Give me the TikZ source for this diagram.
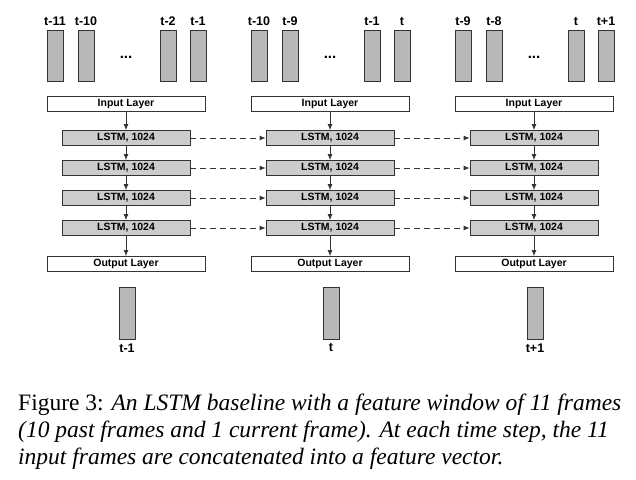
\documentclass[tikz,border=0pt]{standalone}
\usepackage{fontspec}
\setmainfont{Liberation Serif}
\newfontfamily\arialf{Liberation Sans}
\usetikzlibrary{arrows.meta}
\begin{document}
\begin{tikzpicture}[x=1pt,y=-1pt,
  bar/.style={draw=black!80,fill=black!28,line width=0.8pt,minimum width=16pt,minimum height=51pt,inner sep=0pt},
  lbl/.style={font=\arialf\bfseries\fontsize{12.5}{13}\selectfont,inner sep=0pt},
  layer/.style={draw=black!80,fill=white,line width=0.8pt,minimum width=158pt,minimum height=15pt,inner sep=0pt,font=\arialf\bfseries\fontsize{10.5}{11}\selectfont},
  lstm/.style={draw=black!80,fill=black!20,line width=0.8pt,minimum width=128pt,minimum height=15pt,inner sep=0pt,font=\arialf\bfseries\fontsize{10.5}{11}\selectfont},
  va/.style={draw=black!80,line width=0.8pt,-{Latex[length=6pt,width=5pt]}},
  da/.style={draw=black!80,line width=0.8pt,dash pattern=on 6pt off 4pt,-{Latex[length=6pt,width=5pt]}},
  captxt/.style={font=\fontsize{23.5}{27}\selectfont,anchor=west,inner sep=0pt}]
\useasboundingbox (0,0) rectangle (636,479);
\foreach \c/\o/\la/\lb/\lc/\ld/\out in {0/0/t-11/t-10/t-2/t-1/t-1, 1/204/t-10/t-9/t-1/t/t, 2/408/t-9/t-8/t/t+1/t+1}{
  \node[bar] (b1\c) at (55+\o,55.5) {};
  \node[bar] (b2\c) at (86+\o,55.5) {};
  \node[bar] (b3\c) at (168+\o,55.5) {};
  \node[bar] (b4\c) at (198+\o,55.5) {};
  \node[lbl,above=4pt] (l1\c) at (b1\c.north) {\la};
  \node[lbl,above=4pt] (l2\c) at (b2\c.north) {\lb};
  \node[lbl,above=4pt] (l3\c) at (b3\c.north) {\lc};
  \node[lbl,above=4pt] (l4\c) at (b4\c.north) {\ld};
  \node[lbl,font=\arialf\bfseries\fontsize{15}{15}\selectfont] (dots\c) at (126+\o,57) {...};
  \node[layer] (in\c) at (126+\o,103.5) {Input Layer};
  \node[lstm] (s1\c) at (126+\o,138) {LSTM, 1024};
  \node[lstm] (s2\c) at (126+\o,168) {LSTM, 1024};
  \node[lstm] (s3\c) at (126+\o,198) {LSTM, 1024};
  \node[lstm] (s4\c) at (126+\o,228) {LSTM, 1024};
  \node[layer] (ou\c) at (126+\o,264) {Output Layer};
  \node[bar,minimum height=52pt] (ob\c) at (127+\o,313) {};
  \node[lbl,below=4pt] (ol\c) at (ob\c.south) {\out};
  \draw[va] (in\c) -- (s1\c);
  \draw[va] (s1\c) -- (s2\c);
  \draw[va] (s2\c) -- (s3\c);
  \draw[va] (s3\c) -- (s4\c);
  \draw[va] (s4\c) -- (ou\c);
}
\foreach \i in {1,2,3,4}{
  \draw[da] (s\i0) -- (s\i1);
  \draw[da] (s\i1) -- (s\i2);
}
\node[captxt] (c1) at (18,405) {Figure 3: \textit{An LSTM baseline with a feature window of 11 frames}};
\node[captxt] (c2) at (18,432) {\textit{(10 past frames and 1 current frame). At each time step, the 11}};
\node[captxt] (c3) at (18,459) {\textit{input frames are concatenated into a feature vector.}};
\end{tikzpicture}
\end{document}
